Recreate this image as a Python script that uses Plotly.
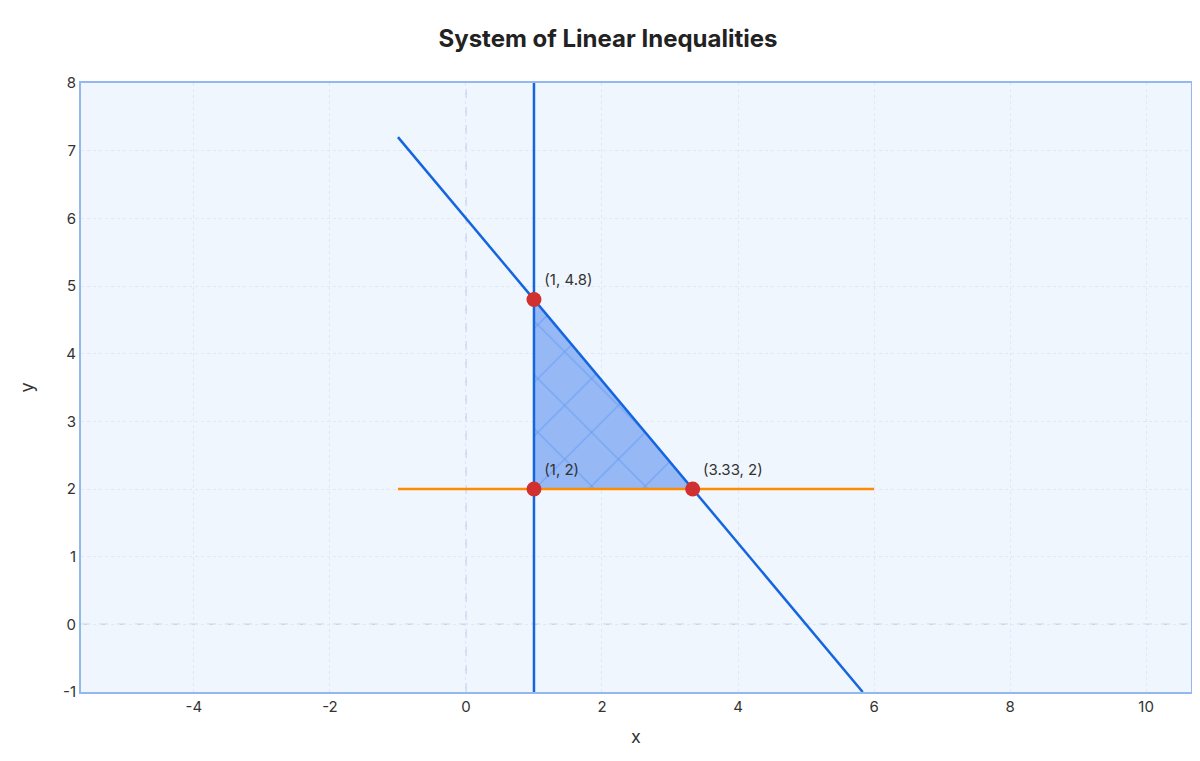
import plotly.graph_objects as go

line_x = [-1, 5.8333]
line_y = [7.2, -1]
vert_x = [1, 1]
vert_y = [-1, 8]
horiz_x = [-1, 6]
horiz_y = [2, 2]
region_x = [1, 1, 3.3333, 1]
region_y = [2, 4.8, 2, 2]
pts_x = [1, 1, 3.3333]
pts_y = [4.8, 2, 2]
pts_lbl = ["(1, 4.8)", "(1, 2)", "(3.33, 2)"]
xticks = [-4, -2, 0, 2, 4, 6, 8, 10]
yticks = [-1, 0, 1, 2, 3, 4, 5, 6, 7, 8]

fig = go.Figure()
fig.add_trace(go.Scatter(x=region_x, y=region_y, mode="lines", fill="toself",
    line=dict(width=0),
    fillpattern=dict(shape="x", fgcolor="rgba(70,135,240,1)", bgcolor="rgba(150,185,245,1)", size=38, solidity=0.06),
    hoverinfo="skip"))
fig.add_trace(go.Scatter(x=line_x, y=line_y, mode="lines", line=dict(color="#1565e0", width=2.5)))
fig.add_trace(go.Scatter(x=vert_x, y=vert_y, mode="lines", line=dict(color="#1565e0", width=2.5)))
fig.add_trace(go.Scatter(x=horiz_x, y=horiz_y, mode="lines", line=dict(color="#ff8c00", width=2.5)))
fig.add_trace(go.Scatter(x=pts_x, y=pts_y, mode="markers+text", text=pts_lbl,
    textposition="top right", textfont=dict(size=15, color="#333"),
    marker=dict(color="#d03030", size=15)))

fig.add_shape(type="line", x0=0, x1=0, y0=-1, y1=8, line=dict(color="#c5d5f0", width=1.5, dash="dash"), layer="below")
fig.add_shape(type="line", x0=-5.66, x1=10.66, y0=0, y1=0, line=dict(color="#c5d5f0", width=1.5, dash="dash"), layer="below")

ax = dict(showline=True, linecolor="#93b8f0", linewidth=2, mirror=True, zeroline=False,
          gridcolor="#e0e8f5", griddash="dot", tickfont=dict(size=15, color="#333"),
          title_font=dict(size=18, color="#333"), ticks="", automargin=False)
fig.update_layout(
    width=1200, height=761, showlegend=False,
    font=dict(family="Inter, sans-serif"),
    title=dict(text="<b>System of Linear Inequalities</b>", x=0.5, y=0.96, yanchor="middle", xanchor="center",
               font=dict(size=24, color="#222")),
    plot_bgcolor="#f0f6fd", paper_bgcolor="white",
    margin=dict(l=73, r=17, t=75, b=77),
    xaxis=dict(ax, range=[-5.66, 10.66], tickvals=xticks, ticktext=[str(v) for v in xticks],
               title=dict(text="x", standoff=15)),
    yaxis=dict(ax, range=[-1, 8], tickvals=yticks, ticktext=[str(v) for v in yticks],
               title=dict(text="y", standoff=25)),
)
fig.write_html("out.html")
